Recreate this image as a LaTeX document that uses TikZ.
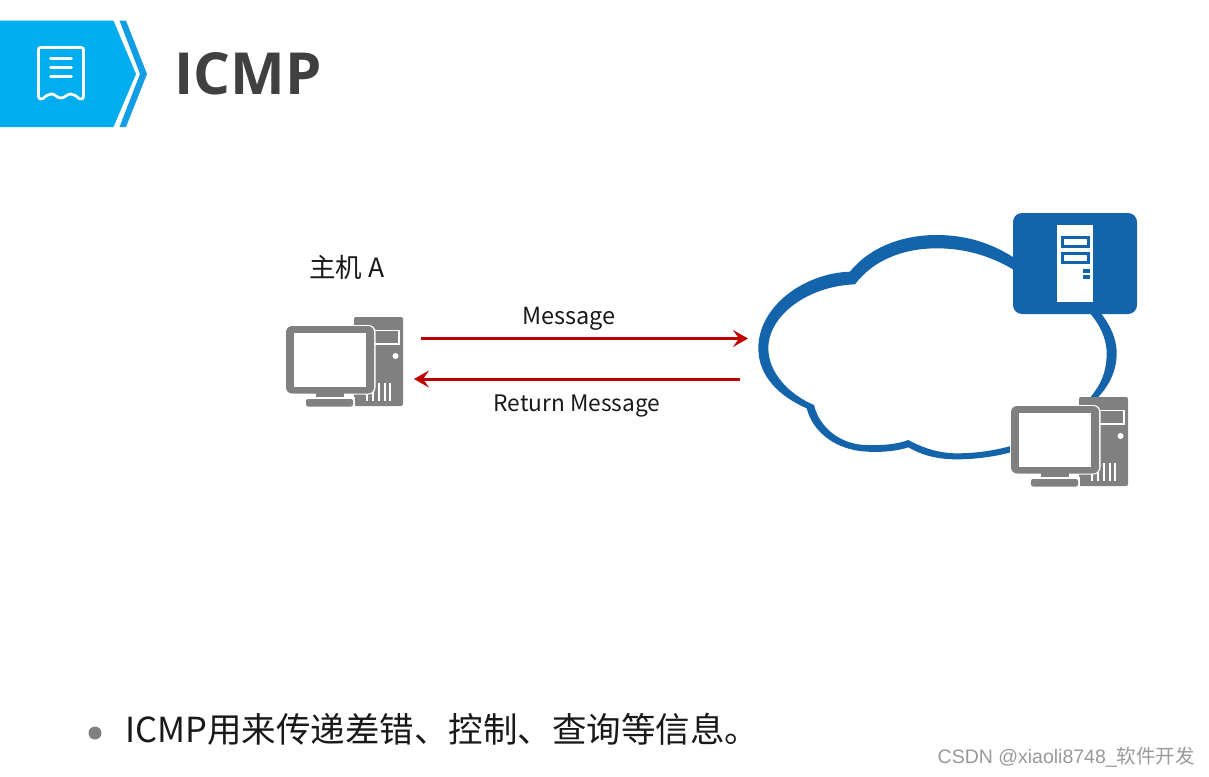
\documentclass[tikz,border=0pt]{standalone}
\usepackage{fontspec}
\setmainfont{Open Sans}
\newfontfamily\cjk{Noto Sans CJK SC}
\newfontfamily\wm{Liberation Sans}
\usetikzlibrary{arrows.meta}
\definecolor{hdrblue}{HTML}{00AEEF}
\definecolor{chevblue}{HTML}{129EE4}
\definecolor{cloudblue}{HTML}{1464AB}
\definecolor{pcgray}{HTML}{808080}
\definecolor{arrowred}{HTML}{C00000}
\definecolor{titlegray}{HTML}{404040}
\tikzset{
  msgarrow/.style={draw=arrowred,line width=3pt,-{Stealth[length=15pt,width=17pt,inset=6pt]}},
  msglabel/.style={inner sep=0pt,font=\fontsize{23}{27}\selectfont\cjk,text=black!90},
  pcbody/.style={fill=pcgray,draw=none},
  pcwhite/.style={draw=white,line width=1.2pt},
  iconline/.style={draw=white,line width=2.7pt,line cap=round,line join=round}
}
\newcommand{\drawpc}[2]{%
\begin{scope}[shift={(#1,#2)}]
  % tower
  \fill[pcbody,rounded corners=2pt] (354,317) rectangle (403,406);
  \draw[pcwhite,fill=pcgray] (372,330.5) rectangle (399,344);
  \fill[white] (395.5,356) circle (3);
  \foreach \vx in {367,373,379,385,390}{\draw[pcwhite] (\vx,383) -- (\vx,401);}
  % monitor
  \fill[white,rounded corners=7pt] (285,325) rectangle (375.5,394.5);
  \fill[pcbody,rounded corners=6pt] (286,326) rectangle (374,393.5);
  \fill[white] (294,333) rectangle (366,387);
  \fill[pcbody] (316,393) rectangle (344,397);
  \fill[white] (300,397.3) rectangle (355,407);
  \fill[pcbody,rounded corners=2pt] (306,399) rectangle (353,406.5);
\end{scope}}
\begin{document}
\begin{tikzpicture}[x=1pt,y=-1pt]
\useasboundingbox (0,0) rectangle (1209,776);
\fill[white] (0,0) rectangle (1209,776);
% header
\fill[hdrblue] (0,20.7) -- (113.5,20.7) -- (136,74) -- (113.5,127) -- (0,127) -- cycle;
\fill[chevblue] (119.5,20.7) -- (126,20.7) -- (147,74) -- (126,127) -- (119.5,127) -- (140,74) -- cycle;
\draw[iconline] (41,47.5) -- (81,47.5) .. controls (83,47.5) and (83.5,48) .. (83.5,50) -- (83.5,96) .. controls (83.5,99) and (81,100) .. (79,98.5)
  .. controls (76,96) and (74,94) .. (70.5,94) .. controls (67,94) and (65,98) .. (61,98) .. controls (57,98) and (55,94) .. (51.5,94)
  .. controls (48,94) and (46,96) .. (43,98.5) .. controls (41,100) and (38.5,99) .. (38.5,96) -- (38.5,50) .. controls (38.5,48) and (39,47.5) .. (41,47.5) -- cycle;
\draw[iconline] (50.5,58.5) -- (71.5,58.5);
\draw[iconline] (50.5,67.5) -- (71.5,67.5);
\draw[iconline] (50.5,76.5) -- (71.5,76.5);
\node[anchor=west,inner sep=0pt,font=\fontsize{58}{64}\selectfont\bfseries,text=titlegray] (title) at (174,73.5) {ICMP};
% cloud
\begin{scope}[x=0.33333pt,y=-0.33333pt,shift={(2220,600)}]
\fill[cloudblue,even odd rule]
  (330,215) .. controls (390,140) and (490,105) .. (590,105) .. controls (680,105) and (770,130) .. (860,200)
  .. controls (960,220) and (1130,330) .. (1130,460) .. controls (1130,520) and (1100,570) .. (1060,605)
  .. controls (1000,700) and (830,778) .. (650,778) .. controls (590,778) and (545,765) .. (505,742)
  .. controls (465,755) and (420,757) .. (380,755) .. controls (290,750) and (220,700) .. (200,625)
  .. controls (120,590) and (55,530) .. (55,445) .. controls (55,320) and (190,220) .. (330,215) -- cycle
  (345,253) .. controls (205,258) and (85,345) .. (85,445) .. controls (85,520) and (150,585) .. (222,615)
  .. controls (240,690) and (310,735) .. (380,735) .. controls (425,737) and (470,733) .. (505,720)
  .. controls (550,745) and (600,760) .. (650,760) .. controls (830,760) and (980,680) .. (1040,605)
  .. controls (1080,560) and (1100,520) .. (1100,460) .. controls (1100,340) and (950,240) .. (860,235)
  .. controls (770,170) and (680,145) .. (590,145) .. controls (490,145) and (400,180) .. (345,253) -- cycle;
\end{scope}
% server
\node[draw=none,fill=cloudblue,rounded corners=9pt,minimum width=124pt,minimum height=101pt,inner sep=0pt] (server) at (1075,263.5) {};
\fill[white] (1057,225) rectangle (1093,302);
\draw[cloudblue,line width=3pt] (1062,237) rectangle (1088,246.5);
\draw[cloudblue,line width=3pt] (1062,253) rectangle (1088,262.5);
\fill[cloudblue] (1083,269) rectangle (1090,272.5);
\fill[cloudblue] (1083,274.5) rectangle (1090,278.5);
% computers
\drawpc{0}{0}
\drawpc{725}{80}
% labels and arrows
\node[inner sep=0pt,font=\fontsize{26.5}{30}\selectfont\cjk,text=black!90] (hostA) at (347,267) {主机 A};
\coordinate (msgStart) at (421,338.5);
\coordinate (msgEnd) at (748,338.5);
\coordinate (retStart) at (740,379);
\coordinate (retEnd) at (414,379);
\draw[msgarrow] (msgStart) -- (msgEnd);
\draw[msgarrow] (retStart) -- (retEnd);
\node[msglabel,font=\fontsize{23.5}{27}\selectfont\cjk] (msgLabel) at (569,319) {Message};
\node[msglabel,font=\fontsize{22.7}{27}\selectfont\cjk] (retLabel) at (577,406) {Return Message};
% bullet
\fill[pcgray] (95,733) circle (6.5);
\node[anchor=west,inner sep=0pt,font=\fontsize{34.5}{40}\selectfont\cjk,text=black!90] (bulletText) at (125,729) {ICMP用来传递差错、控制、查询等信息。};
\node[anchor=east,inner sep=0pt,font=\fontsize{19.5}{24}\selectfont\wm,text=black!40] (mark) at (1195,757) {CSDN @xiaoli8748\_{\cjk 软件开发}};
\end{tikzpicture}
\end{document}
